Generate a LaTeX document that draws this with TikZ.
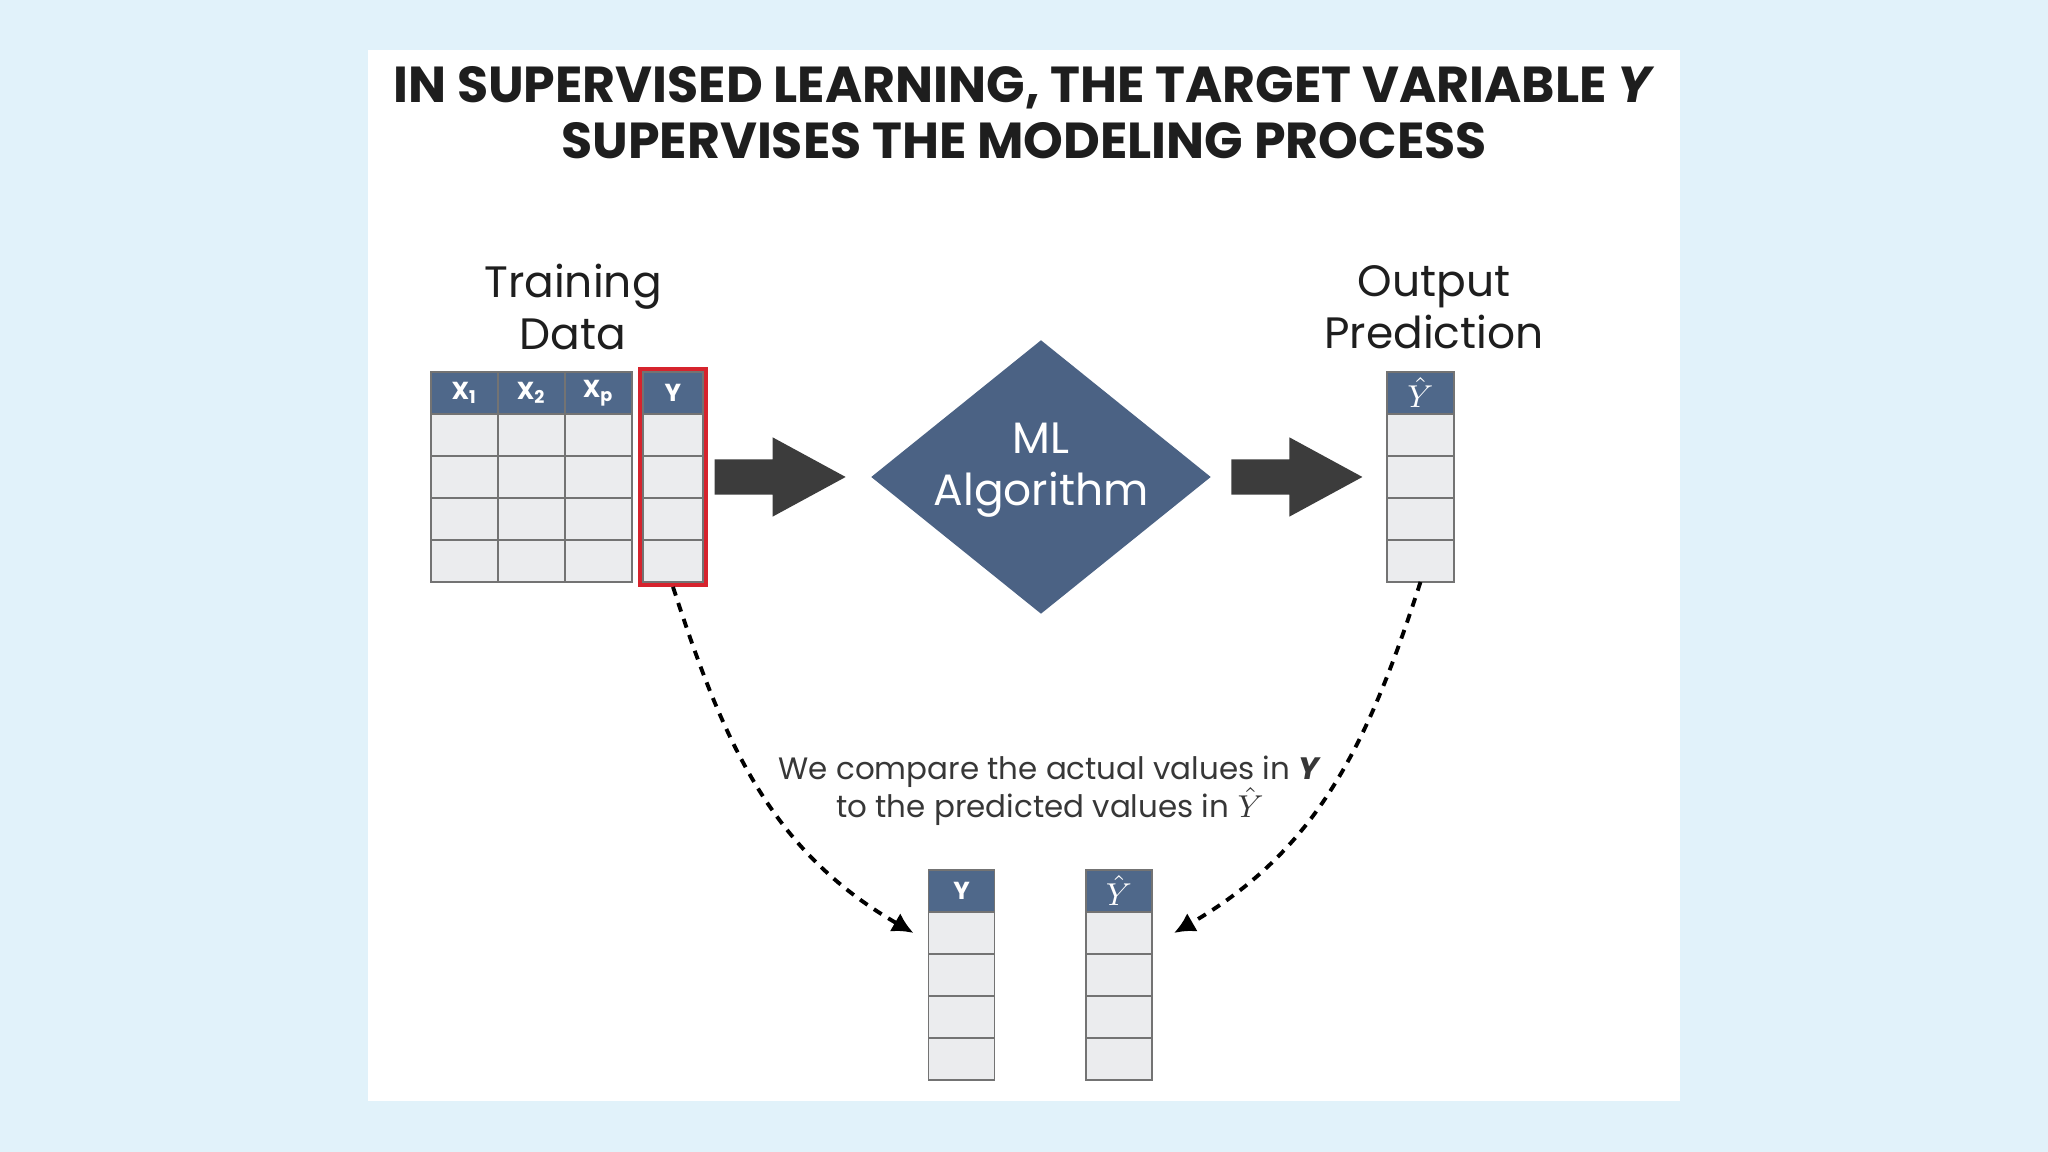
\documentclass[tikz,border=0pt]{standalone}
\usepackage{fontspec}
\setmainfont{Poppins}
\usetikzlibrary{positioning, arrows.meta, shapes.geometric, shapes.arrows, fit, backgrounds}

\definecolor{pagebg}{RGB}{225,242,250}
\definecolor{headblue}{RGB}{79,104,138}
\definecolor{algoblue}{RGB}{75,98,132}
\definecolor{cellgray}{RGB}{235,236,238}
\definecolor{cellline}{RGB}{115,115,115}
\definecolor{arrowgray}{RGB}{60,60,60}
\definecolor{targetred}{RGB}{214,35,45}
\definecolor{textdark}{RGB}{30,30,30}
\definecolor{textgray}{RGB}{55,55,55}

\newcommand{\yhatlab}{\fontsize{9}{10}\selectfont$\hat{Y}$}

\begin{document}
\begin{tikzpicture}[
  align=center,
  font=\fontsize{12.5}{14.8}\selectfont,
  % Estilos de celdas
  cell/.style={draw=cellline, fill=cellgray, line width=0.5pt, minimum width=0.67cm, minimum height=0.42cm, inner sep=0pt, outer sep=0pt},
  headcell/.style={cell, fill=headblue, text=white, font=\fontsize{7}{8}\selectfont\bfseries},
  narrowcell/.style={minimum width=0.60cm},
  % Estilos de bloques
  algobox/.style={diamond, fill=algoblue, minimum width=3.4cm, minimum height=2.74cm, aspect=1.24, inner sep=0pt},
  blockarrow/.style={single arrow, fill=arrowgray, draw=none, minimum height=1.31cm, minimum width=0.78cm, single arrow head extend=0.22cm, single arrow tip angle=57, inner xsep=0pt, inner ysep=0.17cm},
  % Estilos de flechas
  dashline/.style={draw=black, line width=1.1pt, dash pattern=on 2.6pt off 2.2pt, -{Latex[length=6pt, width=6pt]}}
]

  \useasboundingbox (0,0) rectangle (20.48,11.52);
  \fill[pagebg] (0,0) rectangle (20.48,11.52);
  \fill[white] (3.68,0.51) rectangle (16.80,11.02);

  % ==========================================
  % TITLE
  % ==========================================
  \node[font=\fontsize{14.4}{16}\selectfont\bfseries, text=textdark] (titulo) at (10.24, 10.39) {
    IN SUPERVISED LEARNING, THE TARGET VARIABLE \textit{Y}\\
    SUPERVISES THE MODELING PROCESS
  };

  % ==========================================
  % TRAINING DATA TABLE
  % ==========================================
  \foreach \name/\lab [count=\c] in {x1/{X\textsubscript{1}}, x2/{X\textsubscript{2}}, xp/{X\textsubscript{p}}} {
    \node[headcell] (\name-0) at (3.975+0.67*\c, 7.59) {\lab};
    \foreach \r in {1,...,4}
      \node[cell] (\name-\r) at (3.975+0.67*\c, 7.59-0.42*\r) {};
  }

  \node[headcell, narrowcell] (ycol-0) at (6.73, 7.59) {Y};
  \foreach \r in {1,...,4}
    \node[cell, narrowcell] (ycol-\r) at (6.73, 7.59-0.42*\r) {};
  \node[draw=targetred, line width=1.1pt, inner sep=0.03cm, fit=(ycol-0) (ycol-4)] (ybox) {};

  \node[text=textdark] (entrenamiento) at (5.73, 8.45) {Training\\Data};

  % ==========================================
  % ALGORITHM AND OUTPUT
  % ==========================================
  \node[algobox] (algo) at (10.41, 6.75) {};
  \node[text=white] (algotexto) at ([yshift=0.07cm]algo.center) {ML\\Algorithm};

  \node[headcell] (yhat-0) at (14.205, 7.59) {\yhatlab};
  \foreach \r in {1,...,4}
    \node[cell] (yhat-\r) at (14.205, 7.59-0.42*\r) {};

  \node[text=textdark] (salida) at (14.34, 8.45) {Output\\Prediction};

  \node[blockarrow, right=0.06cm of ybox] (flecha1) {};
  \node[blockarrow, right=0.19cm of algo] (flecha2) {};

  % ==========================================
  % COMPARISON
  % ==========================================
  \node[font=\fontsize{8.8}{10.8}\selectfont, text=textgray] (comparar) at (10.5, 3.61) {
    We compare the actual values in \textbf{\textit{Y}}\\
    to the predicted values in $\smash{\hat{Y}}$
  };

  \node[headcell, minimum width=0.66cm] (ycmp-0) at (9.615, 2.61) {Y};
  \node[headcell, minimum width=0.66cm] (yhatcmp-0) at (11.19, 2.61) {\yhatlab};
  \foreach \r in {1,...,4} {
    \node[cell, minimum width=0.66cm] (ycmp-\r) at (9.615, 2.61-0.42*\r) {};
    \node[cell, minimum width=0.66cm] (yhatcmp-\r) at (11.19, 2.61-0.42*\r) {};
  }

  \draw[dashline] (ybox.south) to[out=-72, in=150] ([xshift=-0.15cm]ycmp-1.west);
  \draw[dashline] (yhat-4.south) to[out=-108, in=30] ([xshift=0.22cm]yhatcmp-1.east);

\end{tikzpicture}
\end{document}
